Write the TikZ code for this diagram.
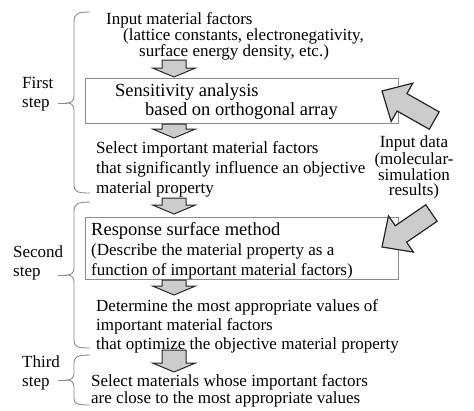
\documentclass[tikz,border=0pt]{standalone}
\usepackage{fontspec}
\setmainfont{Liberation Serif}
\usetikzlibrary{calc}
\definecolor{linegray}{gray}{0.55}
\definecolor{arrowgray}{gray}{0.8}
\tikzset{
	txt/.style={draw=none,rectangle,inner sep=0pt,anchor=north west,align=left,font=\fontsize{17}{#1}\selectfont},
	txt/.default=20,
	stepbox/.style={draw=linegray,line width=0.9pt,inner sep=0pt,anchor=north west},
	brace/.style={draw=linegray,line width=0.9pt},
	pics/downarrow/.style={code={
		\draw[fill=arrowgray,draw=black!85,line width=1pt] (-12,0) -- (12,0) -- (12,#1) -- (21.5,#1) -- (0,#1+9) -- (-21.5,#1) -- (-12,#1) -- cycle;}},
	pics/bigarrow/.style={code={
		\draw[fill=arrowgray,draw=black!85,line width=1.2pt] (0,0) -- (23,22) -- (23,10) -- (60,10) -- (60,-10) -- (23,-10) -- (23,-22) -- cycle;}}
	}

\begin{document}
\begin{tikzpicture}[x=1pt,y=-1pt,
		steplabel/.style={txt=19},
		title/.style={font=\fontsize{18.5}{19}\selectfont}]
	\useasboundingbox (0,0) rectangle (474,410);
	% text blocks
	\node[txt=16] (input) at (106,12) {Input material factors\\
		\hspace*{17pt}(lattice constants, electronegativity,\\
		\hspace*{33pt}surface energy density, etc.)};
	\node[stepbox,minimum width=313pt,minimum height=45pt] (sensbox) at (85,78) {};
	\node[txt,title] (sens) at (115,83) {Sensitivity analysis\\
		\hspace*{30pt}based on orthogonal array};
	\node[txt] (select) at (96,141) {Select important material factors\\
		that significantly influence an objective\\
		material property};
	\node[stepbox,minimum width=313pt,minimum height=62pt] (rsmbox) at (85,217) {};
	\node[txt] (rsm) at (91,222) {{\fontsize{18.5}{19}\selectfont Response surface method}\\
		(Describe the material property as a\\
		function of important material factors)};
	\node[txt=19] (optim) at (96,299) {Determine the most appropriate values of\\
		important material factors\\
		that optimize the objective material property};
	\node[txt=17] (choose) at (91,374) {Select materials whose important factors\\
		are close to the most appropriate values};
	\node[txt=16,anchor=north,align=center] (data) at (414,136) {Input data\\
		(molecular-\\simulation\\results)};
	% step labels
	\node[steplabel] (first) at (22,77) {First\\step};
	\node[steplabel] (second) at (13,245) {Second\\step};
	\node[steplabel] (third) at (22,355) {Third\\step};
	% down arrows
	\path (174,60) pic {downarrow=8};
	\path (174,124) pic {downarrow=5};
	\path (174,198) pic {downarrow=7};
	\path (174,280) pic {downarrow=6};
	\path (174,350) pic {downarrow=13};
	% input data arrows
	\path (382,91) pic[rotate=-29.5] {bigarrow};
	\path (382,247) pic[rotate=34.5] {bigarrow};
	% braces
	\coordinate (tip1) at (67,103);
	\coordinate (tip2) at (67,275);
	\coordinate (tip3) at (67,380);
	\draw[brace] (90,12) .. controls (77,12) and (74,14) .. (74,22) -- (74,96)
		.. controls (74,101) and (71,103) .. (tip1) .. controls (71,103) and (74,105) .. (74,110)
		-- (74,184) .. controls (74,192) and (77,193) .. (90,193);
	\draw[brace] (90,202) .. controls (77,202) and (74,204) .. (74,212) -- (74,268)
		.. controls (74,273) and (71,275) .. (tip2) .. controls (71,275) and (74,277) .. (74,282)
		-- (74,339) .. controls (74,347) and (77,348) .. (90,348);
	\draw[brace] (90,355) .. controls (77,355) and (74,357) .. (74,363) -- (74,373)
		.. controls (74,378) and (71,380) .. (tip3) .. controls (71,380) and (74,382) .. (74,387)
		-- (74,398) .. controls (74,404) and (77,405) .. (90,405);
	\draw[brace] (tip1) -- ++(-9,0);
	\draw[brace] (tip2) -- ++(-9,0);
	\draw[brace] (tip3) -- ++(-9,0);
\end{tikzpicture}
\end{document}
